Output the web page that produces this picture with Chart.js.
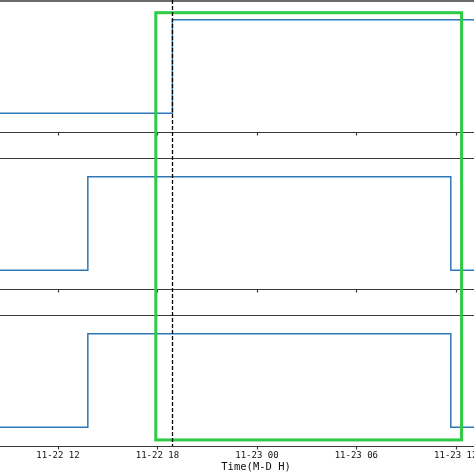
<!DOCTYPE html>
<html>
<head>
<meta charset="utf-8">
<script src="https://cdn.jsdelivr.net/npm/chart.js@4.4.1/dist/chart.umd.min.js"></script>
<style>
  html, body { margin: 0; padding: 0; background: #fff; }
  #wrap { width: 474px; height: 474px; }
</style>
</head>
<body>
<div id="wrap"><canvas id="myChart"></canvas></div>
<script>
// hours counted from 11-22 00:00
const xMin = 8.5;
const xMax = 37.1;
const tickHours = [12, 18, 24, 30, 36];
const tickLabels = ['11-22 12', '11-22 18', '11-23 00', '11-23 06', '11-23 12'];
const xTitle = 'Time(M-D H)';
const xTitleHour = 23.95; // middle of the full (uncropped) axis

// state changes for each panel (drawn as steps)
const topHours = [8.5, 18.9, 37.1];
const topStates = [0, 1, 1];
const midHours = [8.5, 13.8, 35.7, 37.1];
const midStates = [0, 1, 0, 0];
const lowHours = [8.5, 13.8, 35.7, 37.1];
const lowStates = [0, 1, 0, 0];

// event marker + highlighted window
const eventHour = 18.9;
const boxHours = [17.9, 36.35];
const boxTop = 1.075;     // value on top panel
const boxBottom = -0.135; // value on bottom panel

const lineColor = '#2f78b5';
const frameColor = '#3a3a3a';
const boxColor = '#2ecb45';
const fontFamily = "'DejaVu Sans Mono', monospace";

const toPoints = (hours, states) => hours.map((h, i) => ({ x: h, y: states[i] }));

const hiddenY = (weight) => ({
    type: 'linear',
    position: 'left',
    stack: 'rows',
    stackWeight: weight,
    min: -0.2,
    max: 1.2,
    ticks: { display: false },
    grid: { display: false, drawTicks: false },
    border: { display: false },
    afterFit: s => { s.width = 0; }
});

const panelPlugin = {
    id: 'panels',
    beforeDatasetsDraw(chart) {
        const ctx = chart.ctx;
        const xs = chart.scales.x;
        const { left, right } = chart.chartArea;
        ctx.save();
        ctx.strokeStyle = frameColor;
        ctx.lineWidth = 1.2;
        ctx.beginPath();
        ['y1', 'y2', 'y3'].forEach(id => {
            const s = chart.scales[id];
            const top = Math.round(s.top) + 0.5;
            const bot = Math.round(s.bottom) + 0.5;
            if (id !== 'y1') {
                ctx.moveTo(left, top); ctx.lineTo(right, top);
            }
            ctx.moveTo(left, bot); ctx.lineTo(right, bot);
            tickHours.forEach(h => {
                const px = Math.round(xs.getPixelForValue(h)) + 0.5;
                ctx.moveTo(px, bot); ctx.lineTo(px, bot + 3);
            });
        });
        ctx.stroke();
        // top frame edge, cut by the crop
        ctx.strokeStyle = '#6a6a6a';
        ctx.lineWidth = 2;
        ctx.beginPath();
        ctx.moveTo(left, 1); ctx.lineTo(right, 1);
        ctx.stroke();
        ctx.restore();
    },
    afterDatasetsDraw(chart) {
        const ctx = chart.ctx;
        const xs = chart.scales.x;
        const { top, bottom } = chart.chartArea;
        ctx.save();
        // green window
        const x0 = xs.getPixelForValue(boxHours[0]);
        const x1 = xs.getPixelForValue(boxHours[1]);
        const y0 = chart.scales.y1.getPixelForValue(boxTop);
        const y1 = chart.scales.y3.getPixelForValue(boxBottom);
        ctx.strokeStyle = boxColor;
        ctx.lineWidth = 3;
        ctx.strokeRect(x0, y0, x1 - x0, y1 - y0);
        // dashed event line
        const ex = Math.round(xs.getPixelForValue(eventHour)) + 0.5;
        ctx.strokeStyle = '#000';
        ctx.lineWidth = 1.3;
        ctx.setLineDash([4, 2]);
        ctx.beginPath();
        ctx.moveTo(ex, top - 1);
        ctx.lineTo(ex, bottom);
        ctx.stroke();
        ctx.setLineDash([]);
        // axis title, centred on the full axis rather than the crop
        ctx.fillStyle = '#111';
        ctx.font = "10.5px " + fontFamily;
        ctx.textAlign = 'center';
        ctx.textBaseline = 'middle';
        ctx.fillText(xTitle, xs.getPixelForValue(xTitleHour), 467.5);
        ctx.restore();
    }
};

const lineSet = (data, axis) => ({
    data: data,
    yAxisID: axis,
    borderColor: lineColor,
    borderWidth: 1.5,
    stepped: true,
    pointRadius: 0,
    fill: false
});

const config = {
    type: 'line',
    data: {
        datasets: [
            lineSet(toPoints(topHours, topStates), 'y1'),
            lineSet(toPoints(midHours, midStates), 'y2'),
            lineSet(toPoints(lowHours, lowStates), 'y3')
        ]
    },
    options: {
        animation: false,
        responsive: true,
        maintainAspectRatio: false,
        layout: { padding: { top: 1, left: 0, right: 0, bottom: 0 } },
        plugins: { legend: { display: false }, tooltip: { enabled: false } },
        scales: {
            x: {
                type: 'linear',
                min: xMin,
                max: xMax,
                afterBuildTicks: s => { s.ticks = tickHours.map(v => ({ value: v })); },
                ticks: {
                    autoSkip: false,
                    maxRotation: 0,
                    padding: 4,
                    color: '#111',
                    font: { family: fontFamily, size: 9 },
                    callback: (v) => tickLabels[tickHours.indexOf(v)]
                },
                grid: { display: false, drawTicks: false },
                border: { display: false },
                afterFit: s => { s.height = 28; s.paddingLeft = 0; s.paddingRight = 0; }
            },
            // stacked rows are placed bottom-up in key order
            y3: hiddenY(131),
            g2: hiddenY(26),
            y2: hiddenY(131),
            g1: hiddenY(26),
            y1: hiddenY(131)
        }
    },
    plugins: [panelPlugin]
};

const myChart = new Chart(document.getElementById('myChart'), config);
</script>
</body>
</html>
